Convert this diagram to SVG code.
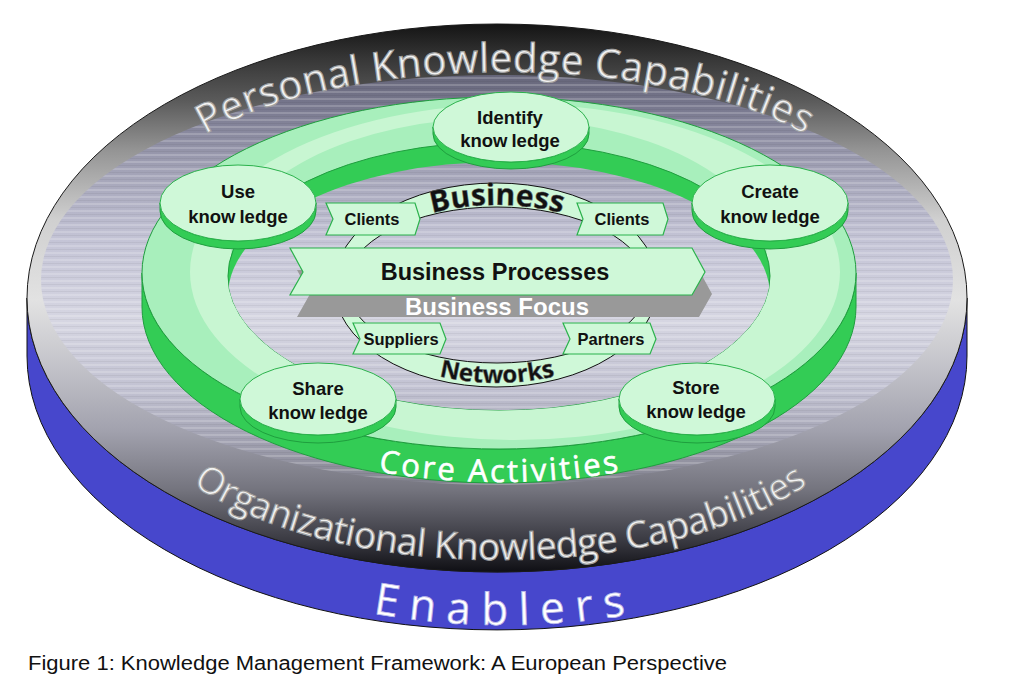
<svg xmlns="http://www.w3.org/2000/svg" width="1024" height="693" viewBox="0 0 1024 693">
<defs>
  <linearGradient id="g1" gradientUnits="userSpaceOnUse" x1="0" y1="24" x2="0" y2="572">
    <stop offset="0" stop-color="#141414"/>
    <stop offset="0.066" stop-color="#383838"/>
    <stop offset="0.139" stop-color="#5a5a5a"/>
    <stop offset="0.23" stop-color="#949494"/>
    <stop offset="0.358" stop-color="#d0d0d0"/>
    <stop offset="0.504" stop-color="#e2e2e2"/>
    <stop offset="0.613" stop-color="#c6c6cc"/>
    <stop offset="0.741" stop-color="#a2a2ae"/>
    <stop offset="0.85" stop-color="#74747e"/>
    <stop offset="0.942" stop-color="#3a3a42"/>
    <stop offset="1" stop-color="#0f0f14"/>
  </linearGradient>
  <linearGradient id="g2" gradientUnits="userSpaceOnUse" x1="0" y1="75" x2="0" y2="485">
    <stop offset="0" stop-color="#66667a"/>
    <stop offset="0.085" stop-color="#7a7a90"/>
    <stop offset="0.232" stop-color="#a2a2b6"/>
    <stop offset="0.402" stop-color="#c4c4d6"/>
    <stop offset="0.598" stop-color="#d6d6e2"/>
    <stop offset="0.768" stop-color="#c2c2d2"/>
    <stop offset="0.89" stop-color="#a2a2b2"/>
    <stop offset="1" stop-color="#82828e"/>
  </linearGradient>
  <pattern id="st" width="8" height="7" patternUnits="userSpaceOnUse">
    <rect width="8" height="2" fill="#ffffff" opacity="0.18"/>
    <rect y="4" width="8" height="1" fill="#000000" opacity="0.05"/>
  </pattern>
  <clipPath id="holeClip"><ellipse cx="499" cy="276" rx="271" ry="134"/></clipPath>
  <path id="pTop" d="M145,212 A360,140 0 0 1 865,212"/>
  <path id="pBot" d="M130,390 A370,170 0 0 0 870,390"/>
  <path id="pEn" d="M115,425 A390,200 0 0 0 895,425"/>
  <path id="pCore" d="M143,306 A357,176 0 0 0 857,306"/>
  <path id="pBus" d="M337,300 A160,95 0 0 1 657,300"/>
  <path id="pNet" d="M347,293 A150,90 0 0 0 647,293"/>
</defs>
<style>
  .arcw{font-family:"Open Sans","DejaVu Sans",sans-serif;fill:#f2f2f2;stroke:#a0a0a0;stroke-width:1.1}
  .en{font-family:"Open Sans","DejaVu Sans",sans-serif;font-size:44px;fill:#ffffff;stroke:#b8b8ea;stroke-width:0.8;letter-spacing:11px}
  .core{font-family:"Open Sans","DejaVu Sans",sans-serif;font-size:31px;fill:#ffffff;stroke:#ffffff;stroke-width:0.6;letter-spacing:2.7px}
  .bn{font-family:"Open Sans","DejaVu Sans",sans-serif;font-weight:bold;fill:#111111;stroke:#666666;stroke-width:0.5}
  .ntop{fill:#cff8d8;stroke:#2bb24c;stroke-width:1}
  .nside{fill:#33cc55;stroke:#1f9e3e;stroke-width:1}
  .nt{font-family:"Liberation Sans",Arial,sans-serif;font-weight:bold;font-size:18.5px;fill:#111111;text-anchor:middle}
  .chev{fill:#cff8d8;stroke:#2bb24c;stroke-width:1.2}
  .ct{font-family:"Liberation Sans",Arial,sans-serif;font-weight:bold;font-size:16.5px;fill:#111111;text-anchor:middle}
</style>
<rect width="1024" height="693" fill="#ffffff"/>

<g id="enablers-disc">
  <path d="M27,298 L27,356 A470,274 0 0 0 967,356 L967,298 A470,274 0 0 1 27,298 Z" fill="#4747cc" stroke="#111111" stroke-width="1"/>
  <ellipse cx="497" cy="298" rx="470" ry="274" fill="url(#g1)" stroke="#1a1a1a" stroke-width="1"/>
  <ellipse cx="497" cy="280" rx="456" ry="205" fill="url(#g2)"/>
  <ellipse cx="497" cy="280" rx="456" ry="205" fill="url(#st)"/>
  <text class="arcw" font-size="40" letter-spacing="0.5"><textPath href="#pTop" startOffset="50%" text-anchor="middle">Personal Knowledge Capabilities</textPath></text>
  <text class="arcw" font-size="37" letter-spacing="-0.5"><textPath href="#pBot" startOffset="50%" text-anchor="middle">Organizational Knowledge Capabilities</textPath></text>
  <text class="en"><textPath href="#pEn" startOffset="50%" text-anchor="middle">Enablers</textPath></text>
</g>

<g id="core-ring">
  <path d="M142,273 L142,307 A357,176 0 0 0 856,307 L856,273 A357,176 0 0 1 142,273 Z" fill="#33cc55" stroke="#1f9e3e" stroke-width="1"/>
  <ellipse cx="499" cy="273" rx="357" ry="176" fill="#a8efbc" stroke="#1f9e3e" stroke-width="1"/>
  <path fill-rule="evenodd" fill="#c8f6d2" d="M190,272 a325,168 0 1 0 650,0 a325,168 0 1 0 -650,0 Z M231,256 a268,138 0 1 0 536,0 a268,138 0 1 0 -536,0 Z"/>
  <ellipse cx="499" cy="276" rx="271" ry="134" fill="#33cc55" stroke="#1f9e3e" stroke-width="1"/>
  <g clip-path="url(#holeClip)">
    <ellipse cx="499" cy="296" rx="271" ry="134" fill="url(#g2)"/>
    <ellipse cx="499" cy="296" rx="271" ry="134" fill="url(#st)"/>
  </g>
  <text class="core"><textPath href="#pCore" startOffset="50%" text-anchor="middle">Core Activities</textPath></text>
</g>

<g id="business-ring">
  <path fill-rule="evenodd" fill="#cff8d8" stroke="#111111" stroke-width="1" d="M334,285 a162,102 0 1 0 324,0 a162,102 0 1 0 -324,0 Z M346,285 a151,78 0 1 0 302,0 a151,78 0 1 0 -302,0 Z"/>
  <text class="bn" font-size="30"><textPath href="#pBus" startOffset="50%" text-anchor="middle">Business</textPath></text>
  <text class="bn" font-size="24"><textPath href="#pNet" startOffset="50%" text-anchor="middle">Networks</textPath></text>
</g>

<g id="business-processes">
  <polygon points="297,270 699,270 712,294 699,317 297,317 310,294" fill="#999999"/>
  <text x="497" y="315" font-family="Liberation Sans, Arial, sans-serif" font-weight="bold" font-size="24" fill="#ffffff" text-anchor="middle">Business Focus</text>
  <polygon class="chev" points="290,248 692,248 705,272 692,295 290,295 303,272"/>
  <text x="495" y="280" font-family="Liberation Sans, Arial, sans-serif" font-weight="bold" font-size="23.5" fill="#111111" text-anchor="middle">Business Processes</text>
</g>

<g id="clients-left">
  <polygon class="chev" points="326,203 415,203 420,219 415,235 326,235 333,219"/>
  <text class="ct" x="372" y="225">Clients</text>
</g>
<g id="clients-right">
  <polygon class="chev" points="577,203 663,203 668,219 663,235 577,235 583,219"/>
  <text class="ct" x="622" y="225">Clients</text>
</g>
<g id="suppliers">
  <polygon class="chev" points="353,323 440,323 446,339 440,354 353,354 360,339"/>
  <text class="ct" x="401" y="345">Suppliers</text>
</g>
<g id="partners">
  <polygon class="chev" points="563,323 650,323 656,339 650,354 563,354 570,339"/>
  <text class="ct" x="611" y="345">Partners</text>
</g>

<g id="identify">
  <path class="nside" d="M433,127 L433,134 A78,35 0 0 0 589,134 L589,127 A78,35 0 0 1 433,127 Z"/>
  <ellipse class="ntop" cx="511" cy="127" rx="78" ry="35"/>
  <text class="nt" x="510" y="124">Identify</text>
  <text class="nt" x="510" y="147">know<tspan dx="4">ledge</tspan></text>
</g>
<g id="use">
  <path class="nside" d="M160,203 L160,211 A78,38 0 0 0 316,211 L316,203 A78,38 0 0 1 160,203 Z"/>
  <ellipse class="ntop" cx="238" cy="203" rx="78" ry="38"/>
  <text class="nt" x="238" y="198">Use</text>
  <text class="nt" x="238" y="223">know<tspan dx="4">ledge</tspan></text>
</g>
<g id="create">
  <path class="nside" d="M692,203 L692,211 A78,38 0 0 0 848,211 L848,203 A78,38 0 0 1 692,203 Z"/>
  <ellipse class="ntop" cx="770" cy="203" rx="78" ry="38"/>
  <text class="nt" x="770" y="198">Create</text>
  <text class="nt" x="770" y="223">know<tspan dx="4">ledge</tspan></text>
</g>
<g id="share">
  <path class="nside" d="M240,399 L240,407 A78,36 0 0 0 396,407 L396,399 A78,36 0 0 1 240,399 Z"/>
  <ellipse class="ntop" cx="318" cy="399" rx="78" ry="36"/>
  <text class="nt" x="318" y="395">Share</text>
  <text class="nt" x="318" y="419">know<tspan dx="4">ledge</tspan></text>
</g>
<g id="store">
  <path class="nside" d="M619,399 L619,407 A78,36 0 0 0 775,407 L775,399 A78,36 0 0 1 619,399 Z"/>
  <ellipse class="ntop" cx="697" cy="399" rx="78" ry="36"/>
  <text class="nt" x="696" y="394">Store</text>
  <text class="nt" x="696" y="418">know<tspan dx="4">ledge</tspan></text>
</g>

<text x="28" y="670" font-family="Liberation Sans, Arial, sans-serif" font-size="20" fill="#111111" textLength="699" lengthAdjust="spacingAndGlyphs">Figure 1: Knowledge Management Framework: A European Perspective</text>
</svg>
